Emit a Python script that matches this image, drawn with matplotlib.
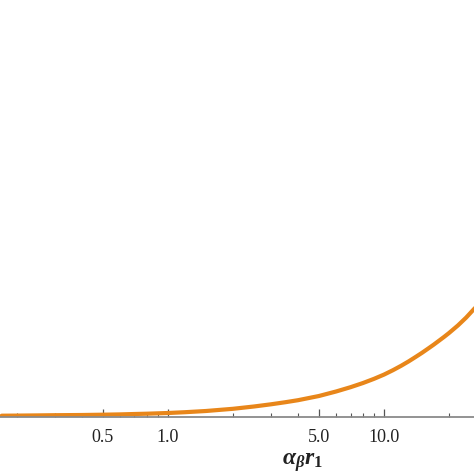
import matplotlib.pyplot as plt
import numpy as np

# valores (eje x logaritmico)
alpha_r = [0.17, 0.2, 0.25, 0.3, 0.4, 0.5, 0.6, 0.7, 0.8, 1.0, 1.2, 1.5, 2.0,
           2.5, 3.0, 3.5, 4.0, 5.0, 6.0, 7.0, 8.0, 9.0, 10.0, 11.0, 12.0, 13.0,
           14.0, 15.0, 16.0, 17.0, 18.0, 19.0, 20.0, 22.0, 24.0, 26.5]
valores = [1.3, 1.4, 1.6, 1.8, 2.0, 2.3, 2.6, 3.0, 3.3, 4.0, 4.8, 6.0, 8.2,
           10.5, 12.7, 14.8, 16.8, 21.0, 25.5, 29.8, 34.0, 38.2, 42.4, 46.8, 51.2, 55.6,
           60.0, 64.2, 68.4, 72.4, 76.4, 80.2, 84.0, 91.6, 99.4, 109.5]

ticks_mayores = [0.5, 1.0, 5.0, 10.0]
etiquetas = ["0.5", "1.0", "5.0", "10.0"]
ticks_menores = [0.2, 0.3, 0.4, 0.6, 0.7, 0.8, 0.9, 2, 3, 4, 6, 7, 8, 9, 20]

plt.rcParams['mathtext.fontset'] = 'custom'
plt.rcParams['mathtext.it'] = 'Liberation Serif:italic:bold'
plt.rcParams['mathtext.rm'] = 'Liberation Serif:bold'

fig = plt.figure(figsize=(4.74, 4.74), dpi=100)
ax = fig.add_axes([0, 57 / 474, 1, 417 / 474])

ax.plot(alpha_r, valores, color='#E8861A', linewidth=3, solid_capstyle='round',
        solid_joinstyle='round')

ax.set_xscale('log')
ax.set_xlim(0.167, 26.1)
ax.set_ylim(0, 417)

for lado in ['top', 'left', 'right']:
    ax.spines[lado].set_visible(False)
ax.spines['bottom'].set_color('#8a8a8a')
ax.spines['bottom'].set_linewidth(1.3)

ax.set_xticks(ticks_mayores)
ax.set_xticklabels(etiquetas, fontsize=13, family='Liberation Serif', color='#222222')
ax.set_xticks(ticks_menores, minor=True)
ax.xaxis.set_minor_formatter(plt.NullFormatter())
ax.tick_params(axis='x', which='major', direction='in', length=6, width=0.9,
               color='#555555', pad=9)
ax.tick_params(axis='x', which='minor', direction='in', length=3, width=0.8,
               color='#555555')
ax.set_yticks([])

fig.text(302 / 474, 12 / 474, r'$\alpha_{\beta}r_{1}$', fontsize=17,
         ha='center', va='center', color='#222222')

plt.savefig("out.png", dpi=100)
